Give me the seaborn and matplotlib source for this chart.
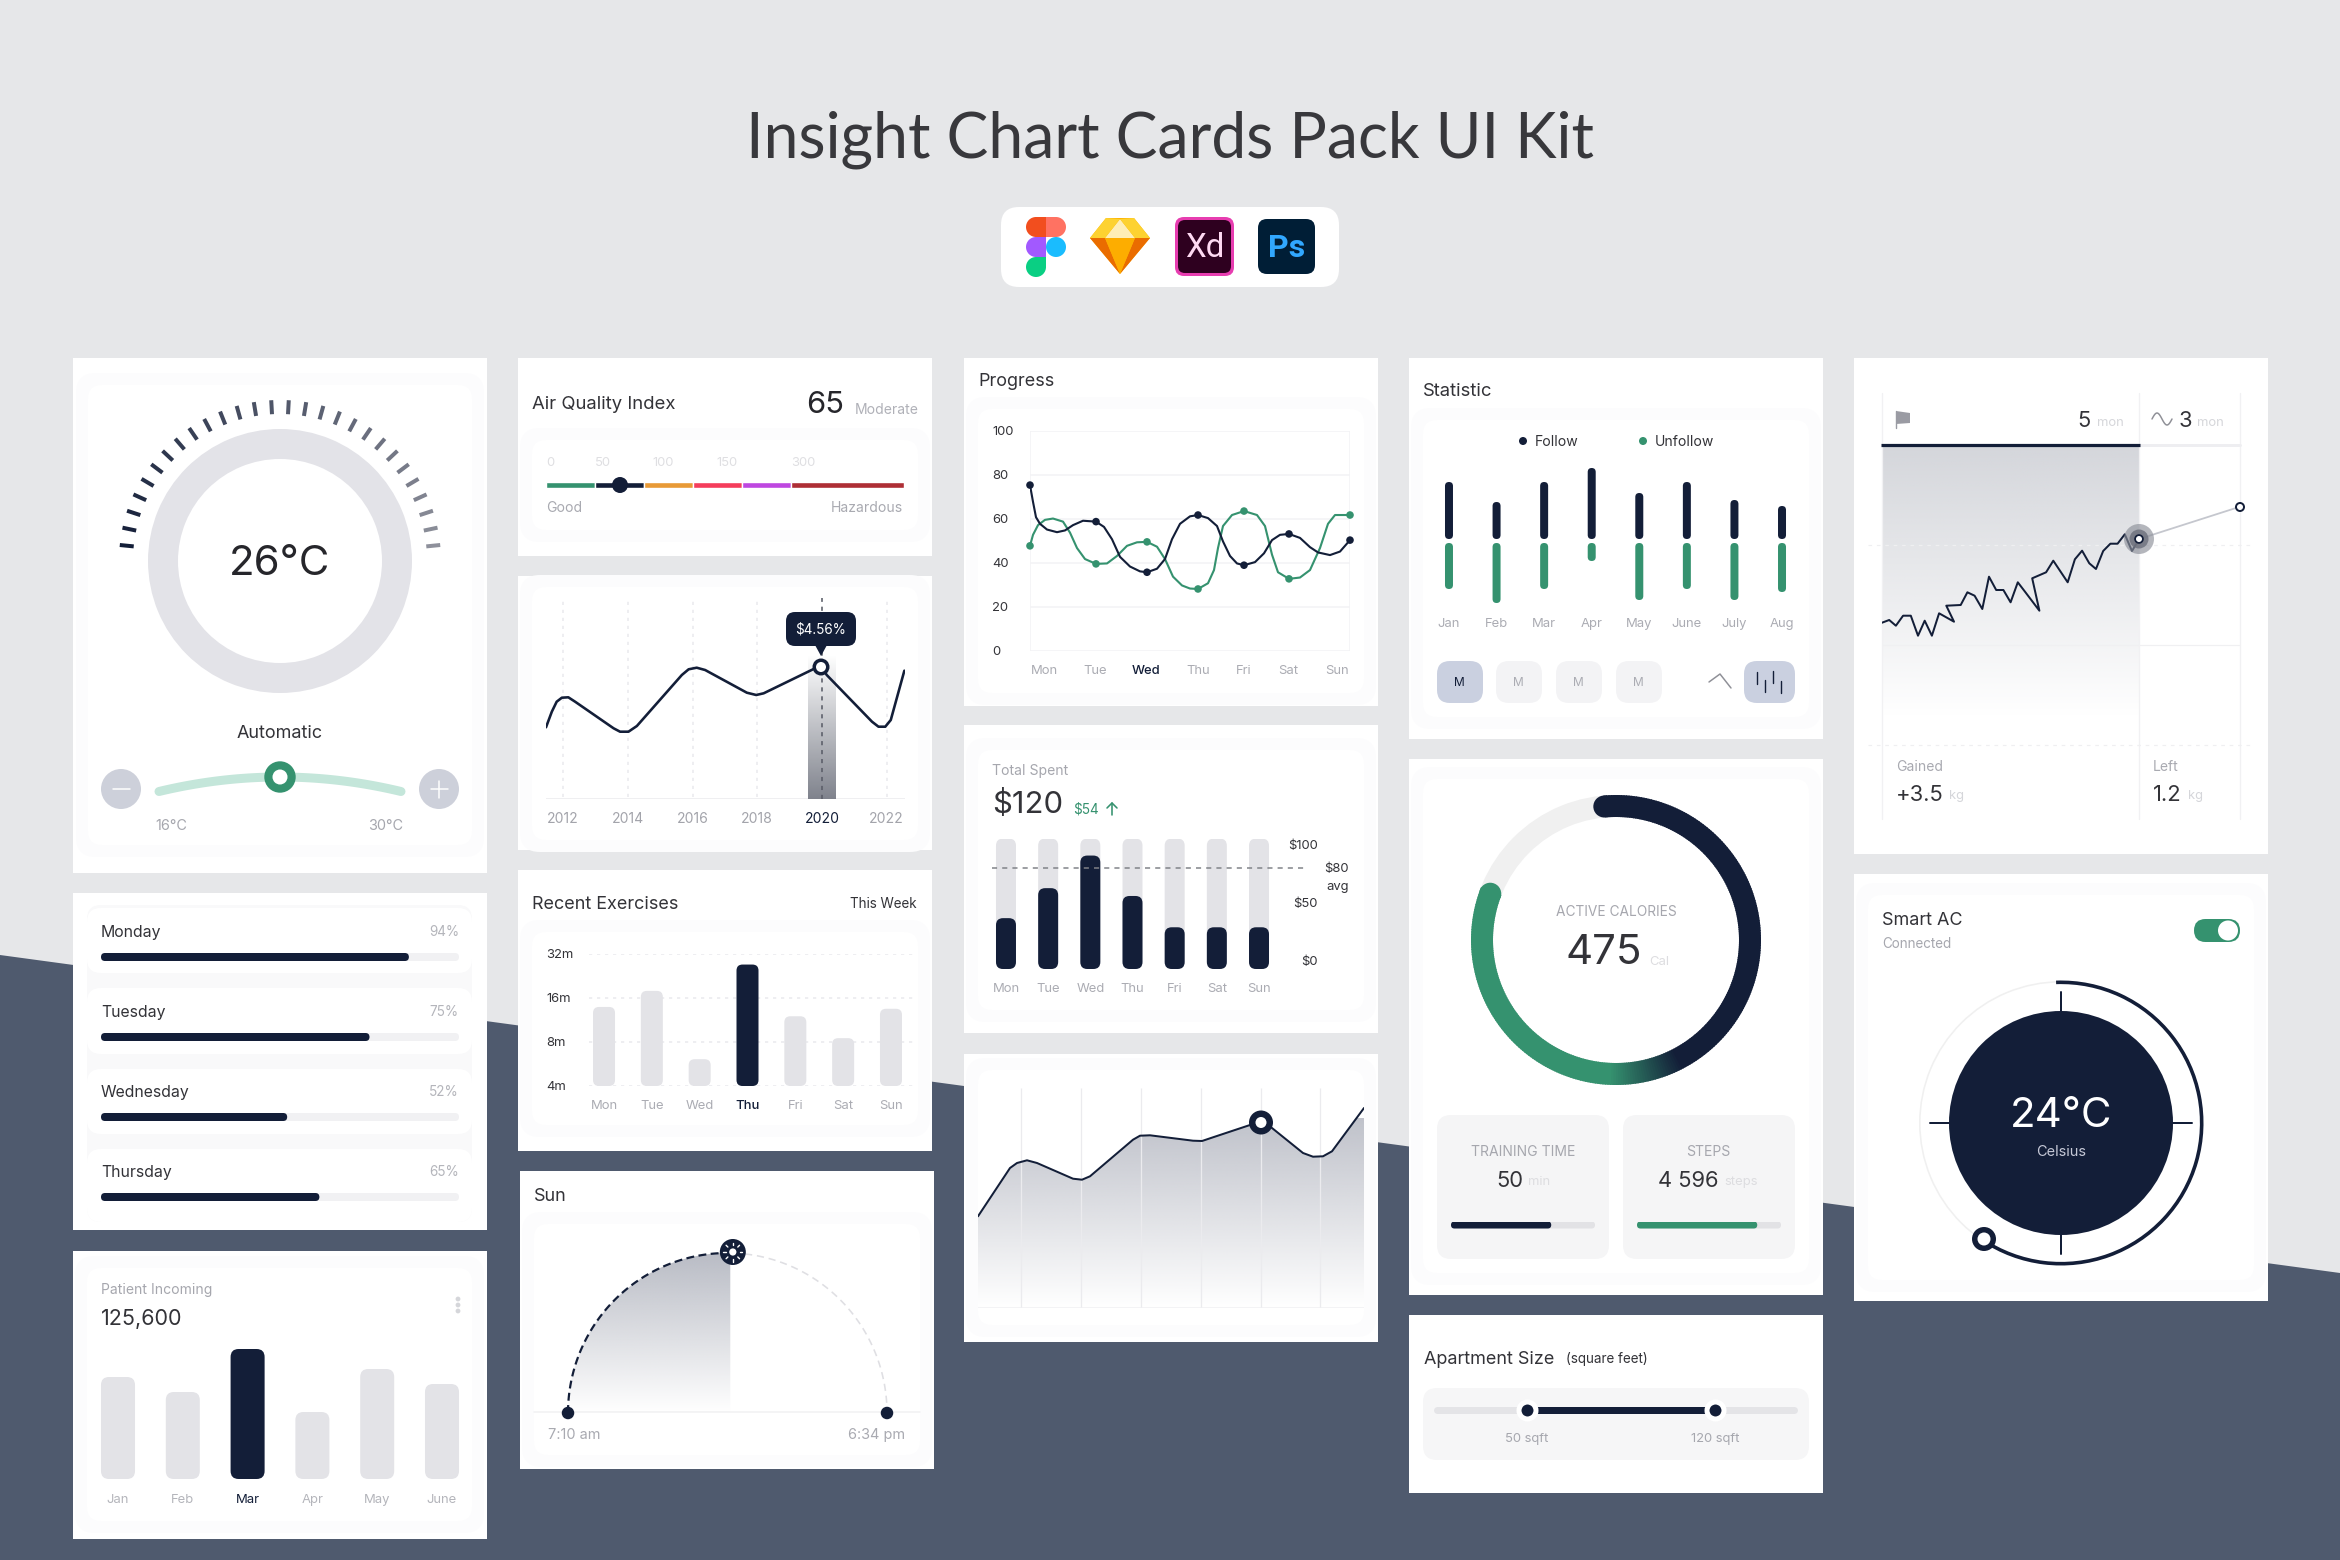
import matplotlib
matplotlib.use("Agg")
import matplotlib.pyplot as plt
import numpy as np
import seaborn as sns
from matplotlib.colors import to_rgb
from matplotlib.patches import Circle, FancyBboxPatch, Polygon, Rectangle, Wedge

sns.set_theme(style="white")
plt.rcParams["font.family"] = ["Inter", "DejaVu Sans"]

W, H = 2340, 1560
P = 0.72  # px to pt at dpi 100

NAVY = "#131E38"
GREEN = "#35926F"
LIGHT = "#E3E3E7"
INK = "#333338"
GREY = "#A6A7AE"
FAINT = "#DCDCE0"

# data
temp_ticks = 28
days_full = ["Monday", "Tuesday", "Wednesday", "Thursday"]
days_pct = ["94%", "75%", "52%", "65%"]
days_bar = [86, 75, 52, 61]

months6 = ["Jan", "Feb", "Mar", "Apr", "May", "June"]
patients = [102, 87, 130, 67, 110, 95]

aqi_widths = [49, 49, 49, 49, 49, 113]
aqi_colors = [GREEN, NAVY, "#E89A36", "#F53D5C", "#BE47E0", "#AE2E35"]
aqi_labels = ["0", "50", "100", "150", "300"]
aqi_marker = 74

years = [2012, 2014, 2016, 2018, 2020, 2022]
rate_x = [2011.47, 2011.65, 2011.80, 2011.96, 2012.16, 2012.37, 2013.56, 2013.76, 2014.02, 2014.28, 2015.67, 2015.88,
          2016.13, 2016.39, 2017.68, 2017.97, 2018.2, 2019.79, 2019.98, 2020.15, 2021.55, 2021.75, 2021.96, 2022.13, 2022.55]
rate_y = [71.7, 87.3, 97.3, 101.3, 101.7, 97.3, 70.7, 67.3, 67.3, 73, 124, 129.7,
          131.3, 129, 106.3, 104, 105.7, 130.7, 132.3, 124, 77.3, 72.3, 72.3, 79, 128.3]

week = ["Mon", "Tue", "Wed", "Thu", "Fri", "Sat", "Sun"]
exercise_min = [13.9, 17.9, 6.1, 27.1, 12.0, 8.5, 13.5]
exercise_ticks = ["4m", "8m", "16m", "32m"]

sunrise, sunset, sun_now = 7.17, 18.57, 13.06

progress_ticks = [0, 20, 40, 60, 80, 100]
navy_x = [0, 3, 6, 10, 17, 27, 35, 43, 53, 66, 74, 82, 90, 100, 110, 117, 127, 135, 142, 150,
          160, 168, 178, 187, 193, 200, 207, 214, 225, 234, 242, 250, 259, 270, 280, 288, 300, 310, 320]
navy_y = [75.2, 67.6, 60.6, 57.6, 55, 53.8, 54.6, 57, 59, 58.6, 56.2, 50.6, 42.6, 38.2, 36, 35.6, 37.2, 41.6, 50.6, 57.6,
          61, 61.6, 60.2, 56.6, 49.6, 43, 39.6, 38.8, 40.2, 44.2, 50.2, 52.6, 53, 51.2, 47, 44.6, 43.4, 45, 50.2]
green_x = [0, 3, 8, 15, 23, 33, 40, 47, 55, 66, 77, 87, 97, 107, 117, 127, 135, 143, 152, 160,
           168, 178, 184, 188, 193, 202, 214, 227, 235, 242, 248, 259, 270, 280, 290, 298, 305, 320]
green_y = [47.6, 52.6, 57, 59.4, 60, 58.6, 53.6, 46.6, 41.6, 39.4, 39.6, 43, 47.6, 49.2, 49.4, 47.2, 41.6, 33.6, 29.6, 28.2,
           28, 30.6, 36.6, 46.6, 56.6, 61.6, 63.4, 61.6, 56.6, 43.6, 35.6, 32.6, 33.2, 36.6, 46.6, 57.6, 61.6, 61.6]
knots_x = [0, 66, 117, 168, 214, 259, 320]
navy_knots = [75.2, 58.6, 35.6, 61.6, 38.8, 53, 50.2]
green_knots = [47.6, 39.4, 49.4, 28, 63.4, 32.6, 61.6]
progress_day_x = [14, 65, 116, 168, 214, 258, 307]

spent = [39, 62, 87, 56, 32, 32, 32]
spent_avg = 77.5

area_x = [0, 32, 39, 49, 59, 95, 104, 112, 155, 162, 172, 215, 224, 235, 275, 283, 294, 325, 335, 345, 354, 386]
area_y = [91.7, 140, 145, 147.7, 145, 129.3, 128.3, 131.7, 168.3, 172.3, 172.7, 167.3, 167, 170.7, 184, 185.7, 180,
          155, 151.3, 151.7, 156.7, 200]
area_grid = [43, 103, 163, 223, 283, 342]

months8 = ["Jan", "Feb", "Mar", "Apr", "May", "June", "July", "Aug"]
follow = [57, 37, 57, 71, 46, 57, 39, 33]
unfollow = [46, 60, 46, 18, 57, 46, 57, 49]

weight_x = [0, .14, .27, .41, .56, .70, .83, .97, 1.11, 1.40, 1.25, 1.53, 1.66, 1.80, 1.95, 2.08, 2.22, 2.36, 2.50, 2.64,
            2.78, 3.06, 2.92, 3.19, 3.33, 3.61, 3.75, 3.89, 4.03, 4.16, 4.30, 4.44, 4.58, 4.72, 4.86, 5.0]
weight_y = [22.3, 25, 19.3, 29.3, 29.3, 9.3, 24.3, 9.3, 31.7, 23.3, 39.3, 40, 52.7, 49.3, 36, 68.3, 55, 55, 42.7, 62.7,
            53.3, 34.3, 66.7, 72.7, 84.3, 62.7, 85.7, 94.3, 81.7, 76, 94, 101.3, 101.3, 110.7, 94, 106]
goal_x = [5, 6.96]
goal_y = [106, 138.3]

calories_done = 82
training_pct, steps_pct = 69.6, 83.5
size_low, size_high = 50, 120

fig = plt.figure(figsize=(W / 100, H / 100), dpi=100)


def layer(z):
    a = fig.add_axes([0, 0, 1, 1], zorder=z)
    a.set_xlim(0, W)
    a.set_ylim(H, 0)
    a.axis("off")
    a.patch.set_visible(False)
    return a


bg = layer(0)
fg = layer(5)


def inset(x0, y0, x1, y1):
    a = fig.add_axes([x0 / W, 1 - y1 / H, (x1 - x0) / W, (y1 - y0) / H], zorder=2)
    a.patch.set_visible(False)
    return a


def finish(a, xlim, ylim):
    a.set_xlim(*xlim)
    a.set_ylim(*ylim)
    a.set(xlabel=None, ylabel=None)
    sns.despine(ax=a, left=True, bottom=True)
    a.tick_params(length=0, labelbottom=False, labelleft=False)
    a.grid(False)


def box(x0, y0, x1, y1, r, color, ax=None, z=1, **kw):
    (ax or bg).add_patch(FancyBboxPatch((x0, y0), x1 - x0, y1 - y0, boxstyle=f"round,pad=0,rounding_size={r}",
                                        fc=color, ec="none", zorder=z, **kw))


def label(x, y, s, px, color=INK, ha="left", weight="normal", ax=None, **kw):
    # va center sits a little high for Inter, nudge it down with the size
    (ax or fg).text(x, y + px * 0.08, s, fontsize=px * P, color=color, ha=ha, va="center", fontweight=weight,
                    zorder=8, **kw)


def card(x0, y0, x1, y1, panel=None):
    bg.add_patch(Rectangle((x0, y0), x1 - x0, y1 - y0, fc="white", ec="none", zorder=1))
    if panel:
        a, b, c, d = panel
        box(a - 12, b - 12, c + 12, d + 12, 20, "#FCFCFD", z=1.1)
        box(a, b, c, d, 14, "white", z=1.2)


def round_bars(a, radius):
    # swap the square seaborn bars for rounded ones, same size and colour
    pos = a.get_position()
    xl, yl = a.get_xlim(), a.get_ylim()
    sx = pos.width * W / abs(xl[1] - xl[0])
    sy = pos.height * H / abs(yl[1] - yl[0])
    for p in list(a.patches):
        x, y, w, h = p.get_x(), p.get_y(), p.get_width(), p.get_height()
        if h < 0:
            y, h = y + h, -h
        if w < 0:
            x, w = x + w, -w
        r = min(radius, w * sx / 2, h * sy / 2)
        new = FancyBboxPatch((x, y), w, h, boxstyle=f"round,pad=0,rounding_size={r / sx}", mutation_aspect=sx / sy,
                             fc=p.get_facecolor(), ec="none", zorder=p.get_zorder())
        p.remove()
        a.add_patch(new)


def xticks(a, ticks, names, y_px, px, colors, weights=None):
    # tick labels centred on y_px, given in figure pixels
    bottom = (1 - a.get_position().y0) * H
    a.set_xticks(ticks, names)
    a.tick_params(axis="x", labelbottom=True, length=0, pad=(y_px - bottom) * P, labelsize=px * P)
    for i, t in enumerate(a.get_xticklabels()):
        t.set_va("center")
        t.set_color(colors[i])
        if weights:
            t.set_fontweight(weights[i])


def yticks(a, ticks, names, x_px, px, color):
    left = a.get_position().x0 * W
    a.set_yticks(ticks, names)
    a.tick_params(axis="y", labelleft=True, length=0, pad=(left - x_px) * P, labelsize=px * P)
    for t in a.get_yticklabels():
        t.set_ha("left")
        t.set_color(color)


def fade(a, extent, color, top, bottom, clip=None, z=1.5):
    arr = np.zeros((256, 1, 4))
    arr[..., :3] = to_rgb(color)
    arr[..., 3] = np.linspace(top, bottom, 256)[:, None]
    im = a.imshow(arr, extent=extent, origin="upper", aspect="auto", zorder=z, interpolation="bilinear")
    if clip is not None:
        poly = Polygon(clip, closed=True, fc="none", ec="none", transform=a.transData)
        a.add_patch(poly)
        im.set_clip_path(poly)


def mix(c0, c1, t):
    a, b = np.array(to_rgb(c0)), np.array(to_rgb(c1))
    return tuple(a + (b - a) * t)


def hbar(x0, x1, y, h, value, color, track):
    a = inset(x0, y - h / 2, x1, y + h / 2)
    sns.barplot(x=[100], y=["t"], orient="h", width=1, color=track, saturation=1, ax=a)
    sns.barplot(x=[value], y=["t"], orient="h", width=1, color=color, saturation=1, ax=a)
    finish(a, (0, 100), (0.5, -0.5))
    round_bars(a, h / 2)


def ring_marker(a, cx, cy, outer, inner, color=NAVY):
    a.add_patch(Circle((cx, cy), outer, fc=color, ec="none", zorder=6))
    a.add_patch(Circle((cx, cy), inner, fc="white", ec="none", zorder=7))


# page background
fig.patch.set_facecolor("#E6E7E9")
bg.add_patch(Polygon([(0, 955), (W, 1273), (W, H), (0, H)], fc="#4F5A6E", ec="none", zorder=0.5))

label(1170, 135, "Insight Chart Cards Pack UI Kit", 62.5, "#38383C", ha="center", family="Lato")

# tool icons
box(1001, 207, 1339, 287, 18, "white")
for (cx, cy, c) in [(1036, 227, "#F24E1E"), (1056, 227, "#FF7262"), (1036, 247, "#A259FF"), (1056, 247, "#1ABCFE"),
                    (1036, 267, "#0ACF83")]:
    bg.add_patch(Circle((cx, cy), 10, fc=c, ec="none", zorder=2))
bg.add_patch(Rectangle((1036, 217), 10, 40, fc="#F24E1E", ec="none", zorder=2))
bg.add_patch(Rectangle((1046, 217), 10, 20, fc="#FF7262", ec="none", zorder=2))
bg.add_patch(Rectangle((1036, 237), 10, 20, fc="#A259FF", ec="none", zorder=2))
bg.add_patch(Rectangle((1036, 257), 10, 10, fc="#0ACF83", ec="none", zorder=2))
for pts, c in [([(1106, 218), (1134, 218), (1150, 238), (1120, 274), (1090, 238)], "#FDB300"),
               ([(1090, 238), (1105, 238), (1120, 274)], "#EA6C00"),
               ([(1135, 238), (1150, 238), (1120, 274)], "#EA6C00"),
               ([(1105, 238), (1135, 238), (1120, 274)], "#FDAD00"),
               ([(1105, 238), (1120, 219), (1135, 238)], "#FEEEB7"),
               ([(1106, 218), (1120, 219), (1105, 238), (1090, 238)], "#FDD231"),
               ([(1134, 218), (1120, 219), (1135, 238), (1150, 238)], "#FDD231")]:
    bg.add_patch(Polygon(pts, fc=c, ec="none", zorder=2))
box(1175, 217, 1234, 276, 9, "#E73DB0", z=2)
box(1178, 220, 1231, 273, 7, "#2E001F", z=2.1)
label(1204.5, 245, "Xd", 33, "#FFD9F2", ha="center", family="Roboto")
box(1258, 219, 1315, 274, 9, "#001E36", z=2)
label(1286.5, 245, "Ps", 32, "#31A8FF", ha="center", weight="bold", family="Roboto")

# thermostat card
card(73, 358, 487, 873, (88, 385, 472, 845))
bg.add_patch(Wedge((280, 561), 132, 0, 360, width=30, fc="#E3E3E8", ec="none", zorder=2))
angles = np.radians(np.linspace(174.3, 5.7, temp_ticks))
for i, t in enumerate(angles):
    bg.plot([280 + 147 * np.cos(t), 280 + 161 * np.cos(t)], [561 - 147 * np.sin(t), 561 - 161 * np.sin(t)],
            color=mix(NAVY, "#8E909B", i / (temp_ticks - 1)), lw=4 * P, solid_capstyle="butt", zorder=2)
label(280, 561, "26°C", 42, "#26262B", ha="center")
label(280, 732, "Automatic", 18, INK, ha="center")
arc_t = np.linspace(-1, 1, 60)
bg.plot(280 + 121 * arc_t, 777 + 14.5 * arc_t ** 2, color="#C4E6DA", lw=9 * P, solid_capstyle="round", zorder=2)
ring_marker(bg, 280, 777, 15.7, 7.5, GREEN)
for cx, plus in [(121, False), (439, True)]:
    bg.add_patch(Circle((cx, 789), 20, fc="#CDD0DA", ec="none", zorder=2))
    bg.plot([cx - 8.5, cx + 8.5], [789, 789], color="white", lw=1.5 * P, zorder=3)
    if plus:
        bg.plot([cx, cx], [789 - 8.5, 789 + 8.5], color="white", lw=1.5 * P, zorder=3)
label(155, 825, "16°C", 14.5, GREY)
label(403, 825, "30°C", 14.5, GREY, ha="right")

# day list card
card(73, 893, 487, 1230)
box(87, 905, 472, 1222, 14, "#F9F9FA", z=1.1)
for y0, y1 in [(908, 973), (988, 1054), (1069, 1134), (1149, 1222)]:
    box(87, y0, 472, y1, 14, "white", z=1.2)
for i, d in enumerate(days_full):
    y = 931 + 80 * i
    label(101, y, d, 15.8, INK)
    label(459, y, days_pct[i], 13.5, "#B4B5BB", ha="right")
    hbar(101, 459, 957 + 80 * i, 8, days_bar[i], NAVY, "#F1F1F3")

# patients card
card(73, 1251, 487, 1539, (87, 1268, 472, 1521))
label(101, 1289, "Patient Incoming", 14, GREY)
label(101, 1317, "125,600", 21.5, INK)
for y in (1299, 1305, 1311):
    bg.add_patch(Circle((458, y), 2.4, fc="#D5D6DA", ec="none", zorder=2))
ax = inset(85.6, 1340, 474.4, 1479)
hl = [NAVY if m == "Mar" else LIGHT for m in months6]
sns.barplot(x=months6, y=patients, hue=months6, palette=hl, legend=False, saturation=1, width=0.525, ax=ax)
finish(ax, (-0.5, 5.5), (0, 139))
round_bars(ax, 8)
xticks(ax, range(6), months6, 1500, 13, [NAVY if m == "Mar" else "#B4B5BB" for m in months6])

# air quality card
card(518, 358, 932, 556, (532, 440, 918, 530))
label(532, 403, "Air Quality Index", 18.5, INK)
label(806, 403, "65", 31, "#26262B")
label(855, 409, "Moderate", 14, "#B0B1B8")
for x, s in zip([546, 595, 652, 716, 791], aqi_labels):
    label(x, 462, s, 13, "#DFDFE2")
ax = inset(546, 482, 904, 488)
left = 0
for w, c in zip(aqi_widths, aqi_colors):
    ax.barh([0], [w], left=left, height=1, color=c)
    left += w
finish(ax, (0, left), (-0.5, 0.5))
sns.scatterplot(x=[aqi_marker], y=[0], color=NAVY, s=(16 * P) ** 2, edgecolor="none", clip_on=False, zorder=5, ax=ax)
ax.set(xlabel=None, ylabel=None)
label(546, 507, "Good", 14, "#A9AAB1")
label(903, 507, "Hazardous", 14, "#A9AAB1", ha="right")

# rate line card
card(518, 576, 932, 850, (532, 587, 918, 840))
ax = inset(546, 598, 905, 799)
ax.set_autoscale_on(False)
ax.vlines([y for y in years if y != 2020], 2, 201, color="#EBEBEE", lw=1.6 * P, linestyles=(0, (2, 3)), zorder=0.5)
ax.axhline(0, color="#EFEFF1", lw=2 * P, zorder=0.6)
fade(ax, (2019.57, 2020.43, 0, 144), "#7F828C", 0, 1, z=1)
ax.vlines(2020, 0, 201, color="#5A5D68", lw=1.6 * P, linestyles=(0, (2.6, 3)), zorder=1.2)
sns.lineplot(x=rate_x, y=rate_y, sort=False, estimator=None, color=NAVY, lw=2.6 * P, ax=ax, zorder=3)
finish(ax, (2011.47, 2022.57), (0, 201))
xticks(ax, years, [str(y) for y in years], 819, 14, ["#A3A4AB"] * 4 + [NAVY, "#A3A4AB"])
box(786, 612, 856, 646, 9, NAVY, ax=fg, z=4)
fg.add_patch(Polygon([(815, 645), (827, 645), (821, 656)], fc=NAVY, ec="none", zorder=4))
label(821, 628, "$4.56%", 13.5, "white", ha="center")
ring_marker(fg, 821, 667, 8.5, 5)

# exercises card
card(518, 870, 932, 1151, (532, 932, 918, 1125))
label(532, 903, "Recent Exercises", 18, INK)
label(917, 903, "This Week", 13.5, INK, ha="right")
ax = inset(580.1, 954, 914.9, 1086)
ax.hlines([0, 1, 2, 3], 0 - 0.32, 6.45, color="#EBEBEE", lw=1.6 * P, linestyles=(0, (2, 3)), zorder=0.5)
hl = [NAVY if d == "Thu" else LIGHT for d in week]
sns.barplot(x=week, y=np.log2(np.array(exercise_min) / 4), hue=week, palette=hl, legend=False, saturation=1,
            width=0.46, ax=ax)
finish(ax, (-0.5, 6.5), (0, 3))
round_bars(ax, 6)
for p in ax.patches:
    p.set_zorder(1)
xticks(ax, range(7), week, 1106, 13, [NAVY if d == "Thu" else "#ABACB3" for d in week],
       ["medium" if d == "Thu" else "normal" for d in week])
yticks(ax, range(4), exercise_ticks, 546, 13, INK)

# sun card
card(520, 1171, 934, 1469, (534, 1224, 920, 1455))
label(534, 1195, "Sun", 18, INK)
bg.plot([534, 920], [1412, 1412], color="#F1F1F3", lw=1.5 * P, zorder=2)
ax = inset(568, 1253, 887, 1413)
ax.set_autoscale_on(False)
mid, half = (sunrise + sunset) / 2, (sunset - sunrise) / 2
t = np.linspace(np.pi, 0, 181)
arc_x, arc_y = mid + half * np.cos(t), np.sin(t)
done = arc_x <= sun_now
fill_pts = list(zip(arc_x[done], arc_y[done])) + [(arc_x[done][-1], 0), (sunrise, 0)]
fade(ax, (sunrise, sun_now - 0.1, 0, 1), "#B9BCC5", 1, 0, clip=fill_pts)
ax.plot(arc_x[~done], arc_y[~done], color="#DFDFE3", lw=1.6 * P, dashes=(4.5, 3), clip_on=False)
ax.plot(arc_x[done], arc_y[done], color=NAVY, lw=2.2 * P, dashes=(3.6, 2), clip_on=False)
sns.scatterplot(x=[sunrise, sunset], y=[0, 0], color=NAVY, s=(12.5 * P) ** 2, edgecolor="none", clip_on=False, zorder=5, ax=ax)
finish(ax, (sunrise, sunset), (0, 1))
sun_cx = 568 + (sun_now - sunrise) / (sunset - sunrise) * 319
fg.add_patch(Circle((sun_cx, 1252), 13, fc=NAVY, ec="none", zorder=4))
fg.add_patch(Circle((sun_cx, 1252), 3.6, fc="white", ec="none", zorder=5))
for a in np.radians(np.arange(0, 360, 45)):
    fg.plot([sun_cx + 7 * np.cos(a), sun_cx + 9.5 * np.cos(a)], [1252 + 7 * np.sin(a), 1252 + 9.5 * np.sin(a)],
            color="white", lw=1.4 * P, zorder=5)
label(548, 1434, "7:10 am", 14.5, "#A9AAB1")
label(905, 1434, "6:34 pm", 14.5, "#A9AAB1", ha="right")

# progress card
card(964, 358, 1378, 706, (978, 409, 1364, 693))
label(978, 380, "Progress", 18, INK)
ax = inset(1030, 430.5, 1350, 650.6)
ax.hlines(progress_ticks, 0, 320, color="#F3F3F5", lw=1.5 * P, zorder=0.5)
ax.vlines([0, 320], 0, 100, color="#F3F3F5", lw=1.5 * P, zorder=0.5)
sns.lineplot(x=green_x, y=green_y, sort=False, estimator=None, color=GREEN, lw=2.1 * P, ax=ax)
sns.lineplot(x=navy_x, y=navy_y, sort=False, estimator=None, color=NAVY, lw=2.1 * P, ax=ax)
sns.scatterplot(x=knots_x, y=green_knots, color=GREEN, s=(7.6 * P) ** 2, edgecolor="none", clip_on=False, zorder=4, ax=ax)
sns.scatterplot(x=knots_x, y=navy_knots, color=NAVY, s=(7.6 * P) ** 2, edgecolor="none", clip_on=False, zorder=5, ax=ax)
finish(ax, (0, 320), (0, 100))
xticks(ax, progress_day_x, week, 671, 13, ["#ABACB3", "#ABACB3", NAVY] + ["#ABACB3"] * 4,
       ["normal", "normal", "medium", "normal", "normal", "normal", "normal"])
yticks(ax, progress_ticks, [str(v) for v in progress_ticks], 992, 13, INK)

# total spent card
card(964, 725, 1378, 1033, (978, 750, 1364, 1010))
label(992, 769.5, "Total Spent", 14, "#A6A7AE")
label(992, 802, "$120", 31, INK)
label(1073, 808, "$54", 13.5, GREEN)
fg.plot([1112, 1112], [803, 815], color=GREEN, lw=1.6 * P)
fg.plot([1107, 1112, 1117], [808, 803, 808], color=GREEN, lw=1.6 * P)
ax = inset(984.9, 838.6, 1280.1, 969)
sns.barplot(x=week, y=[100] * 7, color=LIGHT, saturation=1, width=0.474, ax=ax)
sns.barplot(x=week, y=spent, color=NAVY, saturation=1, width=0.474, ax=ax)
finish(ax, (-0.5, 6.5), (0, 100))
round_bars(ax, 7)
ax.plot([-0.33, 7.16], [spent_avg, spent_avg], color="#7F8187", lw=1.5 * P, dashes=(3.4, 3.4), clip_on=False, zorder=4)
xticks(ax, range(7), week, 989.5, 13, ["#ABACB3"] * 7)
for y, s in [(845, "$100"), (903, "$50"), (961, "$0")]:
    label(1318, y, s, 13, INK, ha="right")
label(1349, 868, "$80", 13, INK, ha="right")
label(1349, 886, "avg", 13, INK, ha="right")

# area card
card(964, 1054, 1378, 1342, (978, 1070, 1364, 1325))
ax = inset(978, 1088, 1364, 1308)
ax.set_autoscale_on(False)
ax.set_xlim(0, 386)
ax.set_ylim(0, 220)
fade(ax, (0, 386, 0, 190), "#B4B7C1", 0.85, 0, clip=list(zip(area_x, area_y)) + [(386, 0), (0, 0)], z=1)
ax.vlines(area_grid, 0, 220, color="#EBEBEE", lw=1.3 * P, zorder=1.2)
ax.axhline(0, color="#F0F0F2", lw=1.5 * P, zorder=1.2)
sns.lineplot(x=area_x, y=area_y, sort=False, estimator=None, color=NAVY, lw=2 * P, ax=ax, zorder=3)
finish(ax, (0, 386), (0, 220))
ring_marker(fg, 1261, 1122.5, 12, 5.5)

# statistic card
card(1409, 358, 1823, 739, (1423, 420, 1809, 717))
label(1423, 390, "Statistic", 18.5, INK)
fg.add_patch(Circle((1523, 441), 4, fc=NAVY, ec="none"))
label(1535, 441, "Follow", 14, INK)
fg.add_patch(Circle((1643, 441), 4, fc=GREEN, ec="none"))
label(1655, 441, "Unfollow", 14, INK)
ax = inset(1425.2, 461, 1805.8, 616)
sns.barplot(x=months8, y=follow, bottom=2, color=NAVY, saturation=1, width=0.168, ax=ax)
sns.barplot(x=months8, y=[-v for v in unfollow], bottom=-2, color=GREEN, saturation=1, width=0.168, ax=ax)
finish(ax, (-0.5, 7.5), (-75, 80))
round_bars(ax, 4)
xticks(ax, range(8), months8, 624, 13, ["#ABACB3"] * 8)
for i, cx in enumerate([1460, 1519, 1579, 1639]):
    box(cx - 23, 661, cx + 23, 703, 13, "#CAD0E0" if i == 0 else "#F3F3F5", z=2)
    label(cx - 1, 682, "M", 12, NAVY if i == 0 else "#ABACB3", ha="center")
bg.plot([1709, 1720, 1731], [682, 674, 688], color="#8F9097", lw=1.5 * P, zorder=2)
box(1744, 661, 1795, 703, 13, "#CAD0E0", z=2)
for x, y0, y1 in [(1757, 672, 684), (1765, 680, 692), (1773, 671, 683), (1781, 681, 693)]:
    bg.plot([x, x], [y0, y1], color=NAVY, lw=1.4 * P, zorder=3)

# weight card
card(1854, 358, 2268, 854)
fade(bg, (1882, 2139, 717, 447), "#CDCFD5", 0.85, 0, z=1.2)
bg.plot([1882, 2139, 2240], [645, 645, 645], color="#F0F0F2", lw=1.2 * P, zorder=1.3)
for x in (1882, 2139, 2240):
    bg.plot([x, x], [393, 819], color="#F1F1F3", lw=1.3 * P, zorder=1.3)
for y in (545, 745):
    bg.plot([1868, 2253], [y, y], color="#EFEFF1", lw=1.2 * P, dashes=(3, 4), zorder=1.3)
bg.plot([2139, 2240], [445, 445], color="#EEEEF1", lw=3 * P, zorder=2)
bg.plot([1881, 2140], [445, 445], color=NAVY, lw=3.2 * P, solid_capstyle="butt", zorder=2)
bg.add_patch(Polygon([(1896, 411), (1910, 413), (1910, 423), (1896, 424)], fc="#9A9BA3", ec="none", zorder=2))
bg.plot([1896, 1896], [411, 428], color="#9A9BA3", lw=1.4 * P, zorder=2)
label(2084, 419, "5", 22, INK, ha="center")
label(2097, 422, "mon", 13, "#D5D6DA")
wave_t = np.linspace(0, 2 * np.pi, 30)
bg.plot(np.linspace(2152, 2172, 30), 419 - 6 * np.sin(wave_t), color="#8F9097", lw=1.5 * P, zorder=2)
label(2185, 419, "3", 22, INK, ha="center")
label(2197, 422, "mon", 13, "#D5D6DA")
label(1896, 766, "Gained", 14, "#A9AAB1")
label(1896, 793, "+3.5", 22, INK)
label(1949, 795, "kg", 13, "#D5D6DA")
label(2153, 766, "Left", 14, "#A9AAB1")
label(2153, 793, "1.2", 22, INK)
label(2188, 795, "kg", 13, "#D5D6DA")
ax = inset(1882, 447, 2240, 645)
sns.lineplot(x=goal_x, y=goal_y, sort=False, estimator=None, color="#C5C7CE", lw=1.8 * P, ax=ax)
sns.lineplot(x=weight_x, y=weight_y, sort=False, estimator=None, color=NAVY, lw=2 * P, ax=ax)
finish(ax, (0, 6.96), (0, 198))
fg.add_patch(Circle((2139, 539), 15, fc="#8C8F99", alpha=0.65, ec="none", zorder=3))
fg.add_patch(Circle((2139, 539), 9.5, fc="#6C6F7B", alpha=0.8, ec="none", zorder=3.1))
ring_marker(fg, 2139, 539, 4.8, 3)
ring_marker(fg, 2240, 507, 5, 3)

# calories card
card(1409, 759, 1823, 1295, (1423, 779, 1809, 1273))
cal_c = (1616, 940)
bg.add_patch(Wedge(cal_c, 145, 0, 360, width=22, fc="#F0F0F0", ec="none", zorder=2))
start = 95
sweep = 360 * calories_done / 100
for a0 in np.arange(0, sweep, 1.0):
    ang = start - a0  # clockwise, measured as on screen
    if ang > -62:
        c = NAVY
    elif ang < -92:
        c = GREEN
    else:
        c = mix(NAVY, GREEN, (-62 - ang) / 30)
    bg.add_patch(Wedge(cal_c, 145, -ang, -ang + 1.4, width=22, fc=c, ec="none", zorder=2.1))
for ang, c in [(start, NAVY), (start - sweep, GREEN)]:
    cx = cal_c[0] + 134 * np.cos(np.radians(ang))
    cy = cal_c[1] - 134 * np.sin(np.radians(ang))
    bg.add_patch(Circle((cx, cy), 11, fc=c, ec="none", zorder=2.2))
label(1616, 911, "ACTIVE CALORIES", 13.7, GREY, ha="center")
label(1565, 950, "475", 42, INK)
label(1649, 961, "Cal", 13, "#DDDDE0")
for x0, x1, title, tx, num, nx, unit, ux, val, col in [
    (1437, 1609, "TRAINING TIME", 1523, "50", 1496, "min", 1528, training_pct, NAVY),
    (1623, 1795, "STEPS", 1708, "4 596", 1658, "steps", 1724, steps_pct, GREEN),
]:
    box(x0, 1115, x1, 1259, 14, "#F5F5F6", z=2)
    label(tx, 1151, title, 14, GREY, ha="center")
    label(nx, 1179, num, 22, INK)
    label(ux, 1181, unit, 13, "#DDDDE0")
    hbar(x0 + 14, x1 - 14, 1225, 7, val, col, "#E2E2E5")

# apartment card
card(1409, 1315, 1823, 1493)
label(1424, 1358, "Apartment Size", 18, INK)
label(1566, 1358, "(square feet)", 13.5, INK)
box(1423, 1388, 1809, 1460, 14, "#F6F6F7")
ax = inset(1437, 1398, 1794, 1422)
ax.plot([16.5, 149.4], [0, 0], color="#E4E4E7", lw=7 * P, solid_capstyle="round", clip_on=False)
ax.plot([size_low, size_high], [0, 0], color=NAVY, lw=7 * P, solid_capstyle="butt")
sns.scatterplot(x=[size_low, size_high], y=[0, 0], color=NAVY, s=(17 * P) ** 2, edgecolor="white", linewidth=5 * P,
                clip_on=False, zorder=5, ax=ax)
finish(ax, (16.5, 149.4), (-1, 1))
label(1527, 1438, "50 sqft", 13, GREY, ha="center")
label(1715, 1438, "120 sqft", 13, GREY, ha="center")

# smart ac card
card(1854, 874, 2268, 1301, (1868, 895, 2254, 1280))
label(1882, 919, "Smart AC", 18, INK)
label(1882, 943, "Connected", 13.5, GREY)
box(2194, 919, 2240, 942, 11.5, GREEN, z=2)
bg.add_patch(Circle((2228, 930.5), 10, fc="white", ec="none", zorder=3))
ac = (2061, 1123)
bg.add_patch(Wedge(ac, 142, 0, 360, width=1.6, fc="#F0F0F0", ec="none", zorder=2))
bg.add_patch(Wedge(ac, 142.5, -92, 124, width=3.6, fc=NAVY, ec="none", zorder=2.1))
bg.add_patch(Circle(ac, 112, fc="#131E38", ec="none", zorder=2.2))
for x0, y0, x1, y1 in [(2061, 992, 2061, 1012), (2061, 1234, 2061, 1254), (1930, 1123, 1949, 1123), (2173, 1123, 2192, 1123)]:
    bg.plot([x0, x1], [y0, y1], color=NAVY, lw=2 * P, zorder=2.1)
ring_marker(fg, 1984, 1239, 12, 6.5)
label(2061, 1113, "24°C", 42, "white", ha="center")
label(2061, 1151, "Celsius", 14.5, "#C5C8D6", ha="center")

fig.savefig("out.png", dpi=100, facecolor=fig.get_facecolor())
